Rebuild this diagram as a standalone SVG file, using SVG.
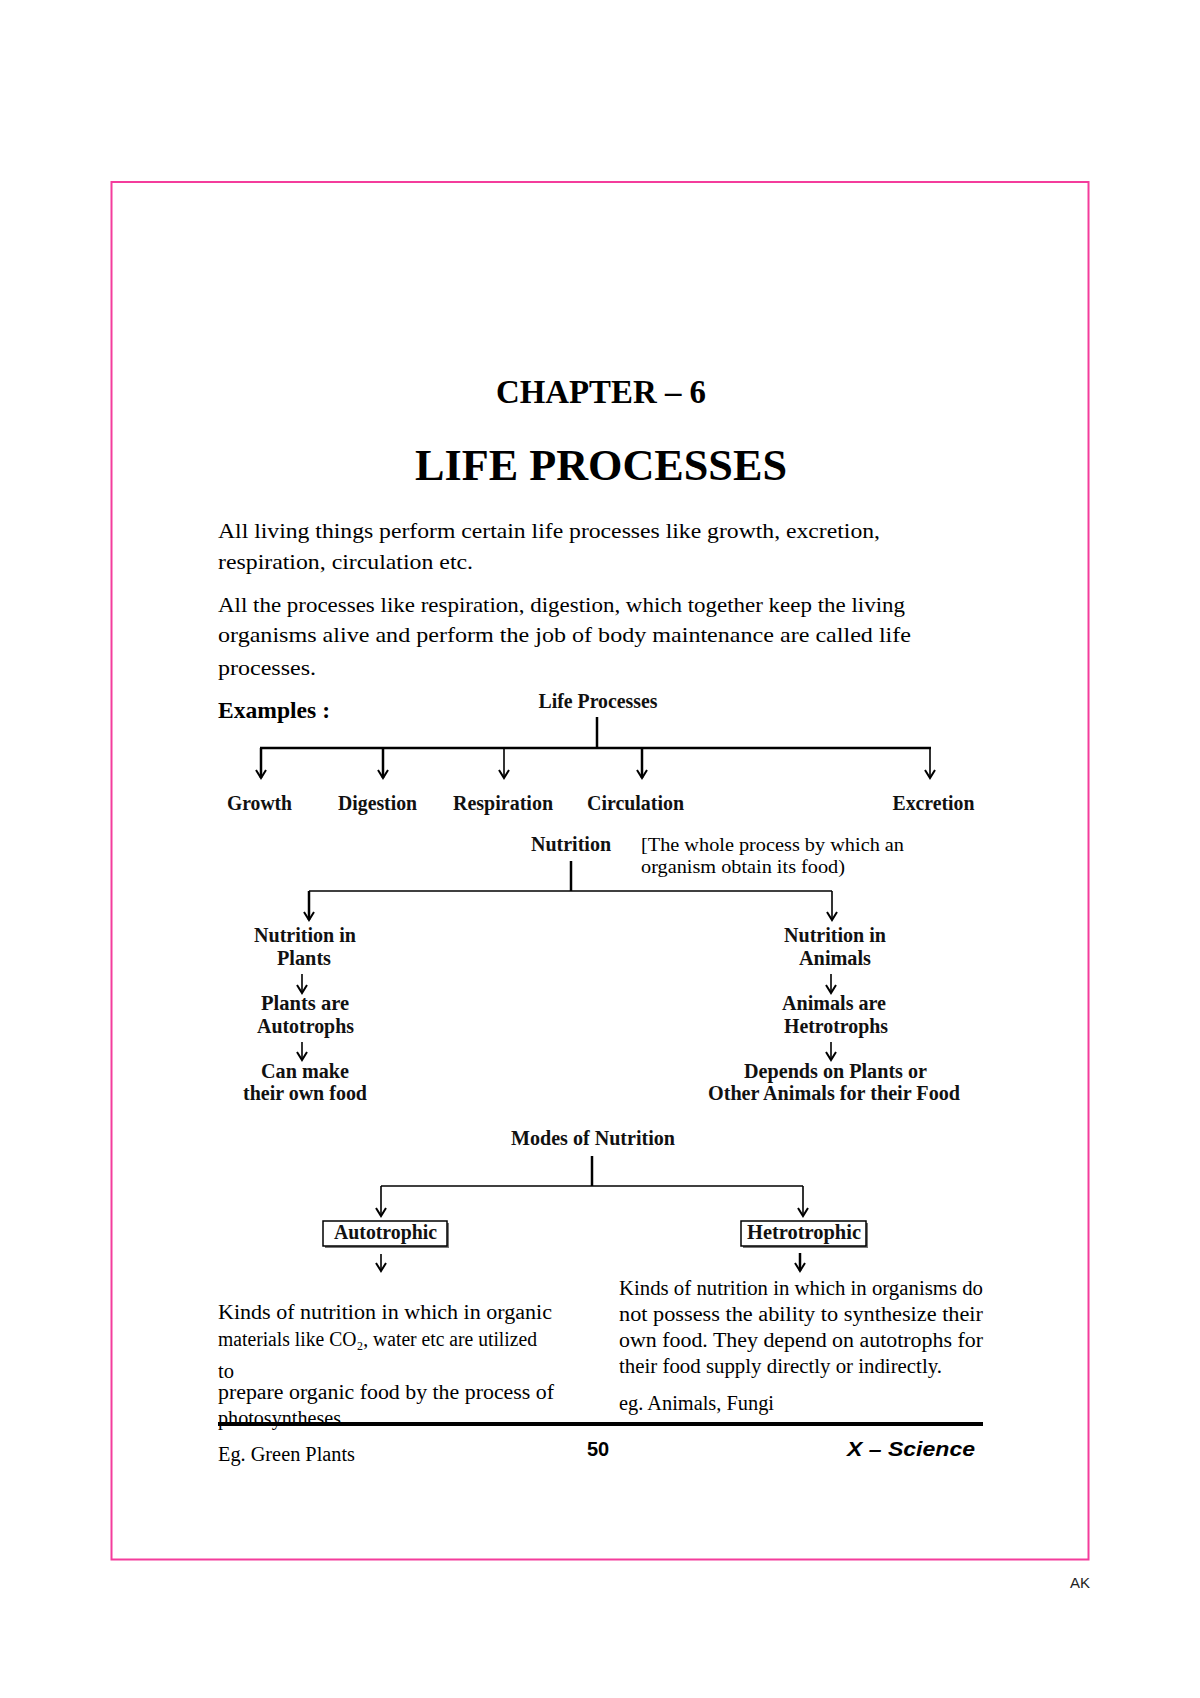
<svg xmlns="http://www.w3.org/2000/svg" width="1200" height="1698" viewBox="0 0 1200 1698">
<style>
.t{font-family:"Liberation Serif","Times New Roman",serif;fill:#000}
.b{font-weight:bold}
.lbl{font-family:"Liberation Serif","Times New Roman",serif;font-weight:bold;font-size:20px;text-anchor:middle;fill:#111}
.body{font-family:"Liberation Serif","Times New Roman",serif;font-size:22px;fill:#000}
.small{font-family:"Liberation Serif","Times New Roman",serif;font-size:20.5px;fill:#000}
.thk{stroke:#000;stroke-width:2.5;fill:none}
.thn{stroke:#000;stroke-width:1.6;fill:none}
.box{fill:#fff;stroke:#000;stroke-width:1.5}
.sh{fill:#777}
</style>
<defs>
<marker id="ah" viewBox="-10 -7 12 14" markerWidth="12" markerHeight="14" refX="0" refY="0" orient="auto" markerUnits="userSpaceOnUse" overflow="visible">
<path d="M-8,-5 L0,0 L-8,5" fill="none" stroke="#000" stroke-width="2"/>
</marker>
</defs>
<rect x="0" y="0" width="1200" height="1698" fill="#fff"/>
<rect x="111.5" y="182" width="977" height="1377.5" fill="none" stroke="#f43c9c" stroke-width="2"/>

<g id="header">
<text class="t b" x="601" y="403" font-size="33" text-anchor="middle" textLength="210" lengthAdjust="spacingAndGlyphs">CHAPTER – 6</text>
<text class="t b" x="601" y="480" font-size="44" text-anchor="middle" textLength="372" lengthAdjust="spacingAndGlyphs">LIFE PROCESSES</text>
</g>

<g id="intro">
<text class="body" x="218" y="538" textLength="662" lengthAdjust="spacingAndGlyphs">All living things perform certain life processes like growth, excretion,</text>
<text class="body" x="218" y="569" textLength="255" lengthAdjust="spacingAndGlyphs">respiration, circulation etc.</text>
<text class="body" x="218" y="612" textLength="687" lengthAdjust="spacingAndGlyphs">All the processes like respiration, digestion, which together keep the living</text>
<text class="body" x="218" y="642" textLength="693" lengthAdjust="spacingAndGlyphs">organisms alive and perform the job of body maintenance are called life</text>
<text class="body" x="218" y="675" textLength="98" lengthAdjust="spacingAndGlyphs">processes.</text>
<text class="t b" x="218" y="718" font-size="23" textLength="112" lengthAdjust="spacingAndGlyphs">Examples :</text>
</g>

<g id="connectors">
<line class="thk" x1="597" y1="717" x2="597" y2="748"/>
<line class="thk" x1="260" y1="748" x2="931" y2="748"/>
<line class="thk" x1="261" y1="748" x2="261" y2="778" marker-end="url(#ah)"/>
<line class="thk" x1="383" y1="748" x2="383" y2="778" marker-end="url(#ah)"/>
<line class="thn" x1="504" y1="748" x2="504" y2="778" marker-end="url(#ah)"/>
<line class="thk" x1="642" y1="748" x2="642" y2="778" marker-end="url(#ah)"/>
<line class="thn" x1="930" y1="748" x2="930" y2="778" marker-end="url(#ah)"/>

<line class="thk" x1="571" y1="861" x2="571" y2="891"/>
<line class="thn" x1="309" y1="891" x2="832" y2="891"/>
<line class="thk" x1="309" y1="891" x2="309" y2="920" marker-end="url(#ah)"/>
<line class="thn" x1="832" y1="891" x2="832" y2="920" marker-end="url(#ah)"/>

<line class="thn" x1="302" y1="974" x2="302" y2="993" marker-end="url(#ah)"/>
<line class="thn" x1="302" y1="1042" x2="302" y2="1060" marker-end="url(#ah)"/>
<line class="thn" x1="831" y1="974" x2="831" y2="993" marker-end="url(#ah)"/>
<line class="thn" x1="831" y1="1042" x2="831" y2="1060" marker-end="url(#ah)"/>

<line class="thk" x1="592" y1="1156" x2="592" y2="1186"/>
<line class="thn" x1="381" y1="1186" x2="803" y2="1186"/>
<line class="thn" x1="381" y1="1186" x2="381" y2="1216" marker-end="url(#ah)"/>
<line class="thn" x1="803" y1="1186" x2="803" y2="1216" marker-end="url(#ah)"/>
<line class="thn" x1="381" y1="1254" x2="381" y2="1271" marker-end="url(#ah)"/>
<line class="thk" x1="800" y1="1253" x2="800" y2="1271" marker-end="url(#ah)"/>
</g>

<g id="life-processes"><text class="lbl" x="598" y="708" textLength="119" lengthAdjust="spacingAndGlyphs">Life Processes</text></g>
<g id="growth"><text class="lbl" x="259.5" y="810" textLength="65" lengthAdjust="spacingAndGlyphs">Growth</text></g>
<g id="digestion"><text class="lbl" x="377.5" y="810" textLength="79" lengthAdjust="spacingAndGlyphs">Digestion</text></g>
<g id="respiration"><text class="lbl" x="503" y="810" textLength="100" lengthAdjust="spacingAndGlyphs">Respiration</text></g>
<g id="circulation"><text class="lbl" x="635.5" y="810" textLength="97" lengthAdjust="spacingAndGlyphs">Circulation</text></g>
<g id="excretion"><text class="lbl" x="933.5" y="810" textLength="82" lengthAdjust="spacingAndGlyphs">Excretion</text></g>

<g id="nutrition">
<text class="lbl" x="571" y="851" textLength="80" lengthAdjust="spacingAndGlyphs">Nutrition</text>
<text class="t" x="641" y="851" font-size="19" textLength="263" lengthAdjust="spacingAndGlyphs">[The whole process by which an</text>
<text class="t" x="641" y="873" font-size="19" textLength="204" lengthAdjust="spacingAndGlyphs">organism obtain its food)</text>
</g>

<g id="plants">
<text class="lbl" x="305" y="942" textLength="102" lengthAdjust="spacingAndGlyphs">Nutrition in</text>
<text class="lbl" x="304" y="965" textLength="54" lengthAdjust="spacingAndGlyphs">Plants</text>
<text class="lbl" x="305" y="1010" textLength="88" lengthAdjust="spacingAndGlyphs">Plants are</text>
<text class="lbl" x="305.5" y="1033" textLength="97" lengthAdjust="spacingAndGlyphs">Autotrophs</text>
<text class="lbl" x="305" y="1078" textLength="88" lengthAdjust="spacingAndGlyphs">Can make</text>
<text class="lbl" x="305" y="1100" textLength="124" lengthAdjust="spacingAndGlyphs">their own food</text>
</g>

<g id="animals">
<text class="lbl" x="835" y="942" textLength="102" lengthAdjust="spacingAndGlyphs">Nutrition in</text>
<text class="lbl" x="835" y="965" textLength="72" lengthAdjust="spacingAndGlyphs">Animals</text>
<text class="lbl" x="834" y="1010" textLength="104" lengthAdjust="spacingAndGlyphs">Animals are</text>
<text class="lbl" x="836" y="1033" textLength="104" lengthAdjust="spacingAndGlyphs">Hetrotrophs</text>
<text class="lbl" x="835.5" y="1078" textLength="183" lengthAdjust="spacingAndGlyphs">Depends on Plants or</text>
<text class="lbl" x="834" y="1100" textLength="252" lengthAdjust="spacingAndGlyphs">Other Animals for their Food</text>
</g>

<g id="modes"><text class="lbl" x="593" y="1145" textLength="164" lengthAdjust="spacingAndGlyphs">Modes of Nutrition</text></g>

<g id="autotrophic">
<rect class="sh" x="325" y="1223" width="124" height="25"/>
<rect class="box" x="323" y="1221" width="124" height="25"/>
<text class="lbl" x="385.5" y="1239" textLength="103" lengthAdjust="spacingAndGlyphs">Autotrophic</text>
</g>
<g id="hetrotrophic">
<rect class="sh" x="743" y="1223" width="125" height="25"/>
<rect class="box" x="741" y="1221" width="125" height="25"/>
<text class="lbl" x="804" y="1239" textLength="114" lengthAdjust="spacingAndGlyphs">Hetrotrophic</text>
</g>

<g id="autotrophic-text">
<text class="small" x="218" y="1319" textLength="334" lengthAdjust="spacingAndGlyphs">Kinds of nutrition in which in organic</text>
<text class="small" x="218" y="1346" textLength="319" lengthAdjust="spacingAndGlyphs">materials like CO₂, water etc are utilized</text>
<text class="small" x="218" y="1378">to</text>
<text class="small" x="218" y="1399" textLength="336" lengthAdjust="spacingAndGlyphs">prepare organic food by the process of</text>
<text class="small" x="218" y="1425" textLength="123" lengthAdjust="spacingAndGlyphs">photosyntheses</text>
</g>

<g id="hetrotrophic-text">
<text class="small" x="619" y="1295" textLength="364" lengthAdjust="spacingAndGlyphs">Kinds of nutrition in which in organisms do</text>
<text class="small" x="619" y="1321" textLength="364" lengthAdjust="spacingAndGlyphs">not possess the ability to synthesize their</text>
<text class="small" x="619" y="1347" textLength="364" lengthAdjust="spacingAndGlyphs">own food. They depend on autotrophs for</text>
<text class="small" x="619" y="1373" textLength="323" lengthAdjust="spacingAndGlyphs">their food supply directly or indirectly.</text>
<text class="small" x="619" y="1410" textLength="155" lengthAdjust="spacingAndGlyphs">eg. Animals, Fungi</text>
</g>

<g id="footer">
<line x1="218" y1="1424" x2="983" y2="1424" stroke="#000" stroke-width="4"/>
<text class="small" x="218" y="1461" textLength="137" lengthAdjust="spacingAndGlyphs">Eg. Green Plants</text>
<text x="598" y="1456" font-family="Liberation Sans, Arial, sans-serif" font-weight="bold" font-size="20" text-anchor="middle">50</text>
<text x="975" y="1456" font-family="Liberation Sans, Arial, sans-serif" font-weight="bold" font-style="italic" font-size="21" text-anchor="end" textLength="128" lengthAdjust="spacingAndGlyphs">X – Science</text>
<text x="1070" y="1588" font-family="Liberation Sans, Arial, sans-serif" font-size="15" fill="#222">AK</text>
</g>
</svg>
